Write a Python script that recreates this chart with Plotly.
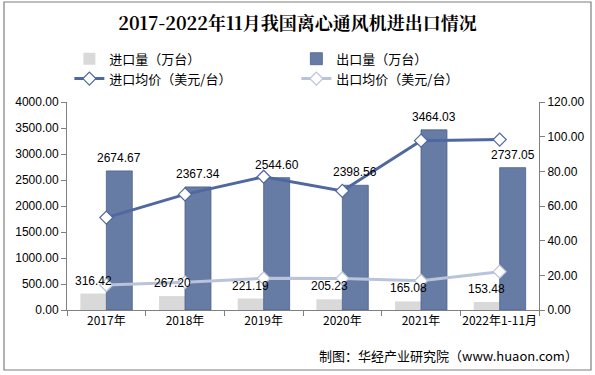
import plotly.graph_objects as go

categories = ["2017年", "2018年", "2019年", "2020年", "2021年", "2022年1-11月"]
import_qty = [316.42, 267.20, 221.19, 205.23, 165.08, 153.48]
export_qty = [2674.67, 2367.34, 2544.60, 2398.56, 3464.03, 2737.05]
import_price = [53.3, 66.7, 76.9, 68.7, 97.7, 98.3]
export_price = [14.4, 16.0, 18.3, 18.2, 16.9, 22.1]

FONT = "Liberation Sans, Arial, Noto Sans CJK SC"
CJK = "Noto Sans CJK SC, Liberation Sans"

fig = go.Figure()
fig.add_trace(go.Bar(
    x=categories, y=import_qty, name="进口量（万台）",
    marker=dict(color="#D9D9D9", line=dict(width=0)),
))
fig.add_trace(go.Bar(
    x=categories, y=export_qty, name="出口量（万台）",
    marker=dict(color="#677CA4", line=dict(color="#4A5F8A", width=0.8)),
))
fig.add_trace(go.Scatter(
    x=categories, y=import_price, name="进口均价（美元/台）", yaxis="y2",
    mode="lines+markers",
    line=dict(color="#5068A0", width=3),
    marker=dict(symbol="diamond", size=10, color="white", line=dict(color="#5068A0", width=1.2)),
))
fig.add_trace(go.Scatter(
    x=categories, y=export_price, name="出口均价（美元/台）", yaxis="y2",
    mode="lines+markers",
    line=dict(color="#B9C4DB", width=3),
    marker=dict(symbol="diamond", size=10, color="white", line=dict(color="#B9C4DB", width=1.2)),
))

# data labels above bars (drawn on top of everything)
for cat, v in zip(categories, import_qty):
    fig.add_annotation(x=cat, y=v, xref="x", yref="y", text=f"{v:.2f}", showarrow=False,
                       xshift=-13, yshift=4, yanchor="bottom",
                       font=dict(family=FONT, size=12, color="black"))
for cat, v in zip(categories, export_qty):
    fig.add_annotation(x=cat, y=v, xref="x", yref="y", text=f"{v:.2f}", showarrow=False,
                       xshift=13, yshift=4, yanchor="bottom",
                       font=dict(family=FONT, size=12, color="black"))

fig.update_layout(
    width=595, height=375,
    margin=dict(l=67, r=56, t=102, b=65, autoexpand=False),
    paper_bgcolor="white", plot_bgcolor="white",
    font=dict(family=FONT, size=12, color="black"),
    title=dict(text="<b>2017-2022年11月我国离心通风机进出口情况</b>",
               x=0.5, xanchor="center", y=0.938, yanchor="middle",
               font=dict(family="Noto Serif CJK SC, Noto Sans CJK SC", size=18, color="black")),
    barmode="group", bargap=0.34, bargroupgap=0,
    showlegend=True,
    legend=dict(orientation="h", x=0.005, xanchor="left", y=1.28, yanchor="top",
                entrywidth=182, entrywidthmode="pixels",
                font=dict(family=CJK, size=13, color="black"),
                tracegroupgap=0, itemwidth=30, bgcolor="rgba(0,0,0,0)"),
    xaxis=dict(showline=True, linecolor="#808080", linewidth=1,
               ticks="outside", tickcolor="#808080", ticklen=5,
               tickson="boundaries", tickangle=0, automargin=False,
               tickfont=dict(family=CJK, size=12, color="black"),
               showgrid=False),
    yaxis=dict(range=[0, 4000], dtick=500, tickformat=".2f", automargin=False,
               showline=True, linecolor="#808080", linewidth=1,
               ticks="outside", tickcolor="#808080", ticklen=5,
               showgrid=False, zeroline=False,
               tickfont=dict(family=FONT, size=12, color="black")),
    yaxis2=dict(range=[0, 120], dtick=20, tickformat=".2f", overlaying="y", side="right",
                automargin=False,
                showline=True, linecolor="#808080", linewidth=1,
                ticks="outside", tickcolor="#808080", ticklen=5,
                showgrid=False, zeroline=False,
                tickfont=dict(family=FONT, size=12, color="black")),
)

# outer frame
fig.add_shape(type="rect", xref="paper", yref="paper",
              x0=-63/472, x1=(591-67)/472, y0=-(370-310)/208, y1=(310-2)/208,
              line=dict(color="#7F7F7F", width=1.2), fillcolor="rgba(0,0,0,0)", layer="below")

fig.add_annotation(text="制图：华经产业研究院（www.huaon.com）", xref="paper", yref="paper",
                   x=(580-67)/472, xanchor="right", y=-(355-310)/208, yanchor="middle",
                   showarrow=False, font=dict(family=CJK, size=13, color="black"))

fig.write_html("out.html", config={"displayModeBar": False},
               post_script="document.body.style.margin='0';")
